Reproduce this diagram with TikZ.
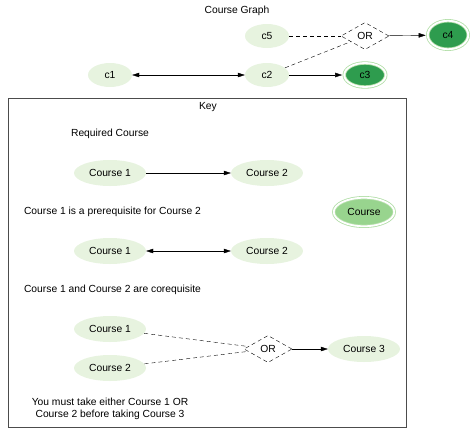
\documentclass[tikz,border=0pt]{standalone}
\usepackage{fontspec}
\setmainfont{Liberation Sans}
\usetikzlibrary{arrows.meta,shapes.geometric}

\definecolor{paleg}{RGB}{231,243,223}
\definecolor{darkg}{RGB}{46,156,78}
\definecolor{midg}{RGB}{152,212,142}
\definecolor{ringg}{RGB}{178,222,168}

\begin{document}
\begin{tikzpicture}[x=1pt,y=-1pt,font=\fontsize{10.3}{12.4}\selectfont,
  crs/.style={ellipse,fill=paleg,inner sep=0pt,minimum width=72pt,minimum height=26pt},
  small/.style={crs,minimum width=44pt,minimum height=24pt},
  taken/.style={ellipse,fill=darkg,inner sep=0pt,draw=ringg,line width=0.8pt,
    double=white,double distance=1.8pt,minimum width=41.5pt,minimum height=24pt},
  ornode/.style={diamond,draw,dashed,dash pattern=on 4pt off 3pt,inner sep=0pt,
    minimum width=48pt,minimum height=27pt},
  tip/.style={-{Triangle[length=7pt,width=4.5pt]}},
  either/.style={dash pattern=on 4pt off 3pt}]

\useasboundingbox (0,0) rectangle (474,437);

\node (title) at (237,11) {Course Graph};

\foreach \n/\x/\y in {c1/110/75, c2/267/75, c5/267/36}
    \node [small] (\n) at (\x,\y) {\n};

\node [taken] (c3) at (365,75) {c3};
\node [taken,minimum width=40.5pt,minimum height=28.5pt] (c4) at (448,35) {c4};
\node [ornode] (or1) at (365,36) {OR};

\draw [{Triangle[length=7pt,width=4.5pt]}-{Triangle[length=7pt,width=4.5pt]}] (c1) -- (c2);
\draw [tip,shorten >=1.7pt] (c2) -- (c3);
\draw [either] (c5) -- (or1);
\draw [either] (c2) -- (or1);
\draw [tip,shorten >=1.7pt] (or1) -- (c4);

% key
\draw [gray!60!black,line width=0.8pt] (8,98) rectangle (406,427);
\node (key) at (208,107) {Key};

\node (req) at (110,134) {Required Course};
\node [crs] (p1) at (110,173) {Course 1};
\node [crs] (p2) at (267,173) {Course 2};
\draw [tip] (p1) -- (p2);
\node [anchor=west] (preq) at (20.5,212) {Course 1 is a prerequisite for Course 2};

\node [taken,fill=midg,minimum width=60.5pt,minimum height=28.5pt] (done) at (364,212) {Course};

\node [crs] (q1) at (110,251) {Course 1};
\node [crs] (q2) at (267,251) {Course 2};
\draw [{Triangle[length=7pt,width=4.5pt]}-{Triangle[length=7pt,width=4.5pt]}] (q1) -- (q2);
\node [anchor=west] (coreq) at (20.5,290) {Course 1 and Course 2 are corequisite};

\node [crs] (e1) at (110,329) {Course 1};
\node [crs] (e2) at (110,368) {Course 2};
\node [ornode] (or2) at (268,349) {OR};
\node [crs] (e3) at (364,349) {Course 3};
\draw [either] (e1) -- (or2);
\draw [either] (e2) -- (or2);
\draw [tip] (or2) -- (e3);
\node [align=center] (ornote) at (110,409) {You must take either Course 1 OR\\Course 2 before taking Course 3};

\end{tikzpicture}
\end{document}
